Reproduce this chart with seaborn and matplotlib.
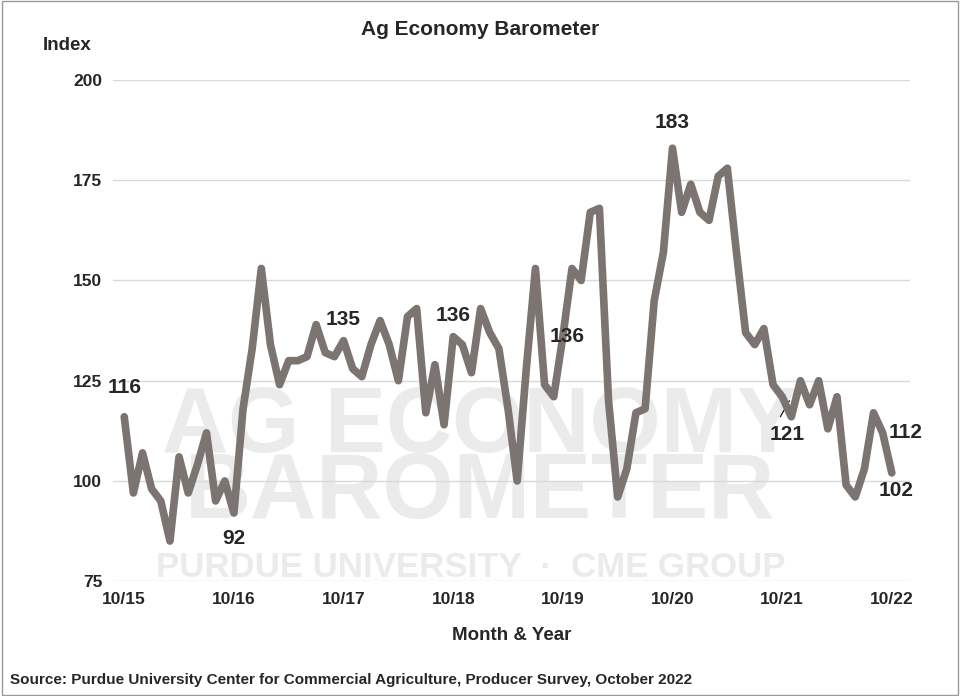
import matplotlib
matplotlib.use("Agg")
import matplotlib.pyplot as plt
import seaborn as sns
import pandas as pd
import numpy as np

values = [116, 97, 107, 98, 95, 85, 106, 97, 104, 112, 95, 100, 92, 118, 133, 153, 134, 124, 130, 130,
          131, 139, 132, 131, 135, 128, 126, 134, 140, 134, 125, 141, 143, 117, 129, 114, 136, 134, 127, 143,
          137, 133, 118, 100, 128, 153, 124, 121, 136, 153, 150, 167, 168, 120, 96, 103, 117, 118, 145, 157,
          183, 167, 174, 167, 165, 176, 178, 157, 137, 134, 138, 124, 121, 116, 125, 119, 125, 113, 121, 99,
          96, 103, 117, 112, 102]
tick_labels = ["10/15", "10/16", "10/17", "10/18", "10/19", "10/20", "10/21", "10/22"]
df = pd.DataFrame({"month": np.arange(len(values)), "index": values})

sns.set_style("white")
plt.rcParams['font.family'] = ['Liberation Sans', 'DejaVu Sans']
plt.rcParams['font.weight'] = 'bold'

fig = plt.figure(figsize=(9.6, 6.96), dpi=100)
ax = fig.add_axes([0.118, 0.165, 0.83, 0.72])
ax.set_zorder(2)
fig.patches.append(plt.Rectangle((0.002, 0.002), 0.996, 0.996, transform=fig.transFigure,
                                 fill=False, edgecolor="#999999", lw=1))

# watermark
wm = dict(ha="center", va="center", color="#ebebeb", zorder=0.5)
fig.text(0.5, 0.385, "AG ECONOMY", fontsize=66, **wm)
fig.text(0.5, 0.29, "BAROMETER", fontsize=66, **wm)
fig.text(0.49, 0.185, "PURDUE UNIVERSITY  ·  CME GROUP", fontsize=25, **wm)

ax.set_facecolor("none")
for y in [75, 100, 125, 150, 175, 200]:
    ax.axhline(y, color="#d9d9d9", lw=1, zorder=0)
sns.lineplot(data=df, x="month", y="index", ax=ax, color="#7b7470", lw=5.5, zorder=3)

ax.set_ylim(75, 200)
ax.set_xlim(-1.2, 86)
ax.set_yticks([75, 100, 125, 150, 175, 200])
ax.set_xticks(np.arange(0, 85, 12))
ax.set_xticklabels(tick_labels)
ax.tick_params(axis="both", length=0, labelsize=12.5, pad=8)
for s in ax.spines.values():
    s.set_visible(False)
ax.set_xlabel("Month & Year", fontsize=13.5, fontweight="bold", labelpad=14)
ax.set_ylabel("")
fig.text(0.045, 0.928, "Index", fontsize=13.5, fontweight="bold")
fig.text(0.5, 0.95, "Ag Economy Barometer", ha="center", fontsize=15, fontweight="bold")
fig.text(0.01, 0.017, "Source: Purdue University Center for Commercial Agriculture, Producer Survey, October 2022",
         fontsize=11, fontweight="bold")

fs = 15
ax.text(0, values[0] + 5, "116", ha="center", va="bottom", fontsize=fs)
ax.text(12, values[12] - 4, "92", ha="center", va="top", fontsize=fs)
ax.text(24, values[24] + 3, "135", ha="center", va="bottom", fontsize=fs)
ax.text(36, values[36] + 3, "136", ha="center", va="bottom", fontsize=fs)
ax.text(48.5, values[48], "136", ha="center", va="center", fontsize=fs)
ax.text(60, values[60] + 4, "183", ha="center", va="bottom", fontsize=fs)
ax.text(72.5, values[72] - 7, "121", ha="center", va="top", fontsize=fs)
ax.plot([71.8, 72.8], [116, 120], color="black", lw=0.8)
ax.text(85.5, values[83], "112", ha="center", va="center", fontsize=fs)
ax.text(84.5, values[84] - 2, "102", ha="center", va="top", fontsize=fs)

fig.savefig("out.png", dpi=100)
